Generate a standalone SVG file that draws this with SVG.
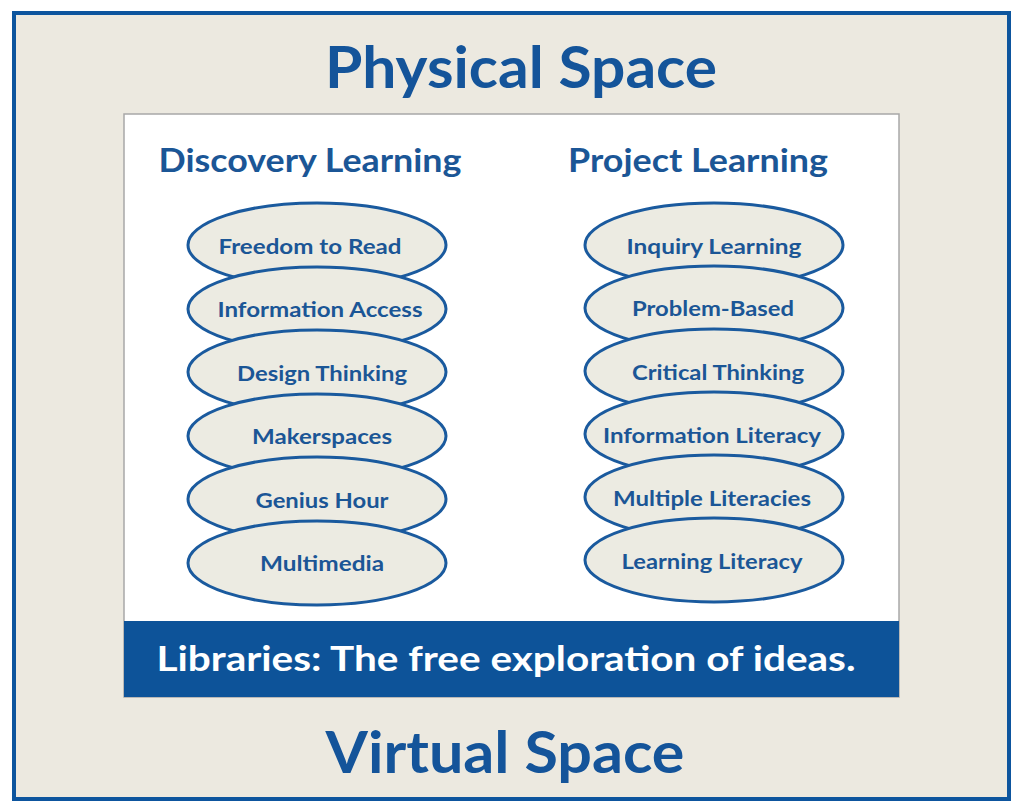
<svg xmlns="http://www.w3.org/2000/svg" width="1024" height="811" viewBox="0 0 1024 811">
<style>
.t{font-family:Lato,"Open Sans","Liberation Sans",sans-serif;font-weight:700;fill:#1b5696;text-anchor:middle}
.big{font-size:58px;fill:#14549a}
.hd{font-size:32px}
.lb{font-size:21px}
.ft{font-size:34px;fill:#ffffff}
.el{fill:#ecebe2;stroke:#1a5a9e;stroke-width:3}
</style>
<rect x="0" y="0" width="1024" height="811" fill="#ffffff"/>
<rect x="14" y="13" width="995" height="786" fill="#ece9e0" stroke="#0d559e" stroke-width="4"/>
<rect x="124" y="114" width="775" height="583" fill="#ffffff" stroke="#a8a8a8" stroke-width="1.5"/>
<rect id="footer" x="124" y="621" width="775" height="76" fill="#0d5399"/>
<text class="t big" x="521" y="88" textLength="392" lengthAdjust="spacingAndGlyphs">Physical Space</text>
<text class="t big" x="505" y="773" textLength="359" lengthAdjust="spacingAndGlyphs">Virtual Space</text>
<text class="t hd" x="310" y="172" textLength="303" lengthAdjust="spacingAndGlyphs">Discovery Learning</text>
<text class="t hd" x="698" y="172" textLength="260" lengthAdjust="spacingAndGlyphs">Project Learning</text>
<text class="t ft" x="506" y="671" textLength="699" lengthAdjust="spacingAndGlyphs">Libraries: The free exploration of ideas.</text>
<g id="left">
<g id="n-freedom"><ellipse class="el" cx="317" cy="245" rx="129" ry="42"/><text class="t lb" x="310" y="254" textLength="183" lengthAdjust="spacingAndGlyphs">Freedom to Read</text></g>
<g id="n-infoaccess"><ellipse class="el" cx="317" cy="309" rx="129" ry="42"/><text class="t lb" x="320" y="317" textLength="205" lengthAdjust="spacingAndGlyphs">Information Access</text></g>
<g id="n-design"><ellipse class="el" cx="317" cy="372" rx="129" ry="42"/><text class="t lb" x="322" y="381" textLength="170" lengthAdjust="spacingAndGlyphs">Design Thinking</text></g>
<g id="n-maker"><ellipse class="el" cx="317" cy="436" rx="129" ry="42"/><text class="t lb" x="322" y="444" textLength="140" lengthAdjust="spacingAndGlyphs">Makerspaces</text></g>
<g id="n-genius"><ellipse class="el" cx="317" cy="499" rx="129" ry="42"/><text class="t lb" x="322" y="508" textLength="133" lengthAdjust="spacingAndGlyphs">Genius Hour</text></g>
<g id="n-multimedia"><ellipse class="el" cx="317" cy="563" rx="129" ry="42"/><text class="t lb" x="322" y="571" textLength="124" lengthAdjust="spacingAndGlyphs">Multimedia</text></g>
</g>
<g id="right">
<g id="n-inquiry"><ellipse class="el" cx="714" cy="245" rx="129" ry="42"/><text class="t lb" x="714" y="254" textLength="175" lengthAdjust="spacingAndGlyphs">Inquiry Learning</text></g>
<g id="n-problem"><ellipse class="el" cx="714" cy="308" rx="129" ry="42"/><text class="t lb" x="713" y="316" textLength="162" lengthAdjust="spacingAndGlyphs">Problem-Based</text></g>
<g id="n-critical"><ellipse class="el" cx="714" cy="371" rx="129" ry="42"/><text class="t lb" x="718" y="380" textLength="172" lengthAdjust="spacingAndGlyphs">Critical Thinking</text></g>
<g id="n-infolit"><ellipse class="el" cx="714" cy="434" rx="129" ry="42"/><text class="t lb" x="712" y="443" textLength="218" lengthAdjust="spacingAndGlyphs">Information Literacy</text></g>
<g id="n-multiple"><ellipse class="el" cx="714" cy="497" rx="129" ry="42"/><text class="t lb" x="712" y="506" textLength="198" lengthAdjust="spacingAndGlyphs">Multiple Literacies</text></g>
<g id="n-learning"><ellipse class="el" cx="714" cy="560" rx="129" ry="42"/><text class="t lb" x="712" y="569" textLength="181" lengthAdjust="spacingAndGlyphs">Learning Literacy</text></g>
</g>
<g id="connectors"/>
</svg>
